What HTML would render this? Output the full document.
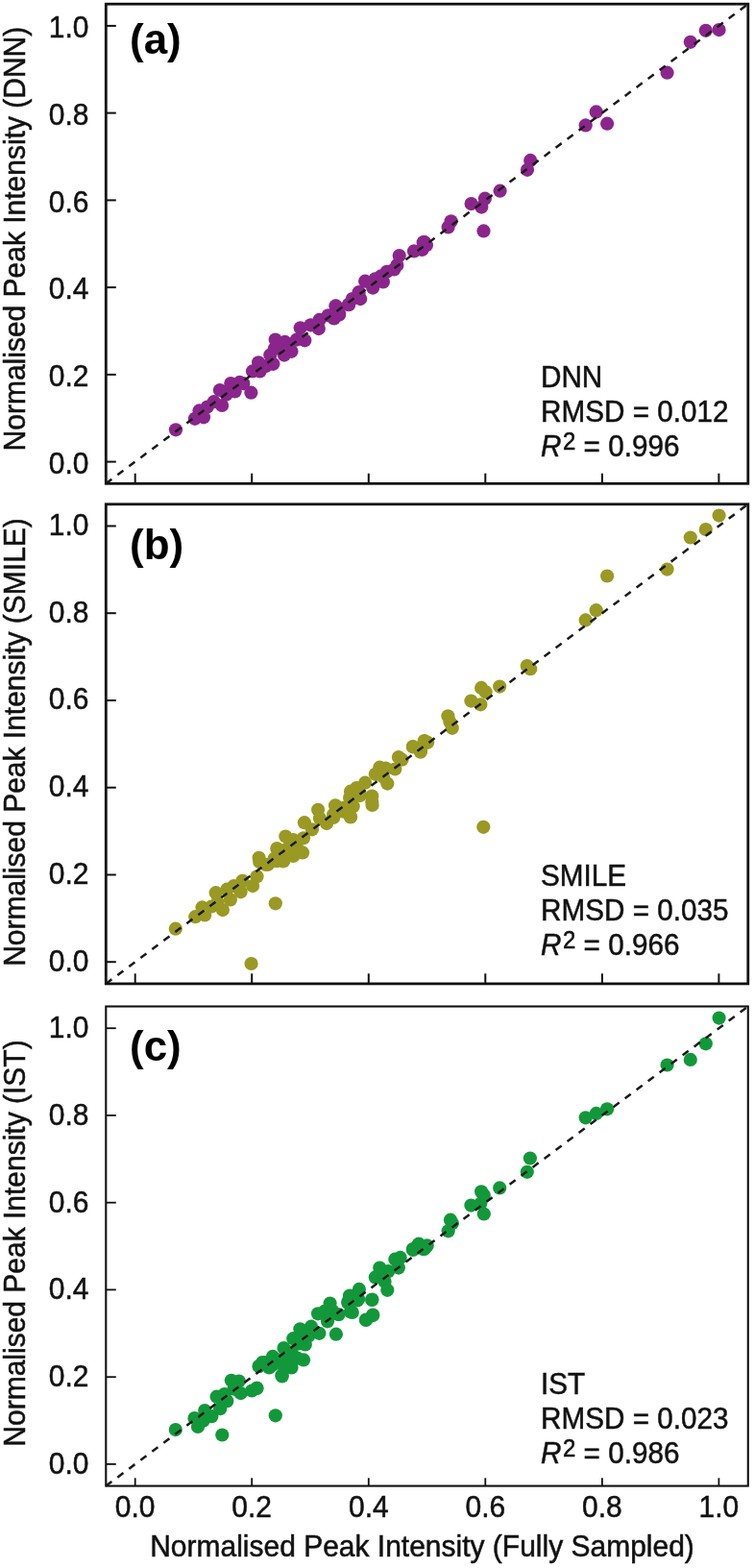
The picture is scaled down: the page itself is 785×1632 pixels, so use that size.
<!DOCTYPE html>
<html><head><meta charset="utf-8"><title>Figure</title>
<style>
html,body{margin:0;padding:0;background:#fff;}
svg{display:block;font-family:"Liberation Sans",sans-serif;}
.fr{fill:none;stroke:#111;}
.tk{stroke:#111;}
.dl{stroke:#1a1a1a;stroke-width:2.5;stroke-dasharray:7.6 7.385;fill:none;}
.tl{font-size:30px;fill:#111;stroke:#111;stroke-width:0.5;}
.ax{font-size:30px;fill:#111;stroke:#111;stroke-width:0.5;}
.an{font-size:29.7px;fill:#111;stroke:#111;stroke-width:0.5;}
.pl{font-size:44px;font-weight:bold;fill:#000;}
</style></head><body>
<svg width="785" height="1632" viewBox="0 0 785 1632">
<rect width="785" height="1632" fill="#fff"/>
<g>
<g fill="#8a268b">
<circle cx="183.0" cy="447.3" r="7.1"/>
<circle cx="202.9" cy="435.8" r="7.1"/>
<circle cx="207.5" cy="427.4" r="7.1"/>
<circle cx="212.0" cy="434.3" r="7.1"/>
<circle cx="215.9" cy="423.6" r="7.1"/>
<circle cx="222.7" cy="418.2" r="7.1"/>
<circle cx="231.1" cy="422.0" r="7.1"/>
<circle cx="228.9" cy="406.0" r="7.1"/>
<circle cx="235.7" cy="410.6" r="7.1"/>
<circle cx="240.3" cy="399.1" r="7.1"/>
<circle cx="244.6" cy="407.5" r="7.1"/>
<circle cx="249.5" cy="397.9" r="7.1"/>
<circle cx="253.3" cy="399.1" r="7.1"/>
<circle cx="261.4" cy="408.7" r="7.1"/>
<circle cx="276.8" cy="381.1" r="7.1"/>
<circle cx="285.9" cy="362.7" r="7.1"/>
<circle cx="263.0" cy="386.4" r="7.1"/>
<circle cx="269.1" cy="377.3" r="7.1"/>
<circle cx="270.6" cy="386.4" r="7.1"/>
<circle cx="281.3" cy="369.6" r="7.1"/>
<circle cx="284.4" cy="378.8" r="7.1"/>
<circle cx="286.7" cy="353.6" r="7.1"/>
<circle cx="296.6" cy="355.9" r="7.1"/>
<circle cx="295.9" cy="369.6" r="7.1"/>
<circle cx="303.5" cy="365.8" r="7.1"/>
<circle cx="308.9" cy="353.6" r="7.1"/>
<circle cx="312.7" cy="341.3" r="7.1"/>
<circle cx="317.3" cy="354.3" r="7.1"/>
<circle cx="323.4" cy="338.3" r="7.1"/>
<circle cx="331.8" cy="342.1" r="7.1"/>
<circle cx="332.5" cy="332.9" r="7.1"/>
<circle cx="341.7" cy="328.3" r="7.1"/>
<circle cx="347.8" cy="331.4" r="7.1"/>
<circle cx="349.4" cy="318.4" r="7.1"/>
<circle cx="353.2" cy="327.6" r="7.1"/>
<circle cx="363.1" cy="316.9" r="7.1"/>
<circle cx="349.9" cy="318.7" r="7.1"/>
<circle cx="353.0" cy="326.4" r="7.1"/>
<circle cx="362.9" cy="317.2" r="7.1"/>
<circle cx="366.8" cy="311.1" r="7.1"/>
<circle cx="373.6" cy="304.2" r="7.1"/>
<circle cx="375.2" cy="311.1" r="7.1"/>
<circle cx="380.1" cy="292.7" r="7.1"/>
<circle cx="388.2" cy="299.6" r="7.1"/>
<circle cx="390.4" cy="290.4" r="7.1"/>
<circle cx="398.9" cy="293.5" r="7.1"/>
<circle cx="396.6" cy="287.4" r="7.1"/>
<circle cx="402.7" cy="282.8" r="7.1"/>
<circle cx="410.3" cy="280.5" r="7.1"/>
<circle cx="413.4" cy="275.9" r="7.1"/>
<circle cx="415.7" cy="266.0" r="7.1"/>
<circle cx="431.0" cy="261.4" r="7.1"/>
<circle cx="442.1" cy="252.2" r="7.1"/>
<circle cx="439.4" cy="259.9" r="7.1"/>
<circle cx="443.9" cy="255.3" r="7.1"/>
<circle cx="440.7" cy="252.2" r="7.1"/>
<circle cx="466.6" cy="236.5" r="7.1"/>
<circle cx="469.6" cy="230.3" r="7.1"/>
<circle cx="490.6" cy="212.1" r="7.1"/>
<circle cx="504.9" cy="206.7" r="7.1"/>
<circle cx="501.3" cy="215.6" r="7.1"/>
<circle cx="503.5" cy="240.4" r="7.1"/>
<circle cx="520.6" cy="198.7" r="7.1"/>
<circle cx="549.0" cy="176.8" r="7.1"/>
<circle cx="552.2" cy="166.9" r="7.1"/>
<circle cx="609.7" cy="130.4" r="7.1"/>
<circle cx="620.7" cy="116.4" r="7.1"/>
<circle cx="632.1" cy="128.7" r="7.1"/>
<circle cx="694.6" cy="75.7" r="7.1"/>
<circle cx="718.8" cy="43.8" r="7.1"/>
<circle cx="734.8" cy="31.8" r="7.1"/>
<circle cx="748.6" cy="31.1" r="7.1"/>
<circle cx="289.9" cy="360.1" r="7.1"/>
</g>
<line class="dl" x1="110.3" y1="503.3" x2="778.8" y2="4.2"/>
<line class="tk" stroke-width="2" x1="110.3" y1="480.6" x2="120.8" y2="480.6"/>
<line class="tk" stroke-width="2" x1="140.7" y1="503.3" x2="140.7" y2="492.7"/>
<text class="tl" transform="translate(92.5,492.8) scale(1,1.045)" text-anchor="end">0.0</text>
<line class="tk" stroke-width="2" x1="110.3" y1="389.9" x2="120.8" y2="389.9"/>
<line class="tk" stroke-width="2" x1="262.2" y1="503.3" x2="262.2" y2="492.7"/>
<text class="tl" transform="translate(92.5,402.1) scale(1,1.045)" text-anchor="end">0.2</text>
<line class="tk" stroke-width="2" x1="110.3" y1="299.1" x2="120.8" y2="299.1"/>
<line class="tk" stroke-width="2" x1="383.8" y1="503.3" x2="383.8" y2="492.7"/>
<text class="tl" transform="translate(92.5,311.3) scale(1,1.045)" text-anchor="end">0.4</text>
<line class="tk" stroke-width="2" x1="110.3" y1="208.4" x2="120.8" y2="208.4"/>
<line class="tk" stroke-width="2" x1="505.3" y1="503.3" x2="505.3" y2="492.7"/>
<text class="tl" transform="translate(92.5,220.6) scale(1,1.045)" text-anchor="end">0.6</text>
<line class="tk" stroke-width="2" x1="110.3" y1="117.6" x2="120.8" y2="117.6"/>
<line class="tk" stroke-width="2" x1="626.9" y1="503.3" x2="626.9" y2="492.7"/>
<text class="tl" transform="translate(92.5,129.8) scale(1,1.045)" text-anchor="end">0.8</text>
<line class="tk" stroke-width="2" x1="110.3" y1="26.9" x2="120.8" y2="26.9"/>
<line class="tk" stroke-width="2" x1="748.4" y1="503.3" x2="748.4" y2="492.7"/>
<text class="tl" transform="translate(92.5,39.1) scale(1,1.045)" text-anchor="end">1.0</text>
<rect class="fr" stroke-width="2.8" x="110.3" y="4.2" width="668.5" height="499.1"/>
<text class="ax" transform="translate(26.3,248.6) rotate(-90) scale(1,1.045)" text-anchor="middle">Normalised Peak Intensity (DNN)</text>
<text class="pl" x="135" y="55.9">(a)</text>
<text class="an" transform="translate(563,402.5) scale(1,1.045)">DNN</text>
<text class="an" transform="translate(563,438.7) scale(1,1.045)">RMSD = 0.012</text>
<text class="an" transform="translate(563,474.5) scale(1,1.045)"><tspan font-style="italic">R</tspan><tspan font-size="24px" dx="1.5" dy="-6.5">2</tspan><tspan dy="6.5"> = 0.996</tspan></text>
</g>
<g>
<g fill="#999924">
<circle cx="226.5" cy="939.0" r="7.1"/>
<circle cx="288.1" cy="896.2" r="7.1"/>
<circle cx="182.8" cy="966.7" r="7.1"/>
<circle cx="203.3" cy="954.2" r="7.1"/>
<circle cx="210.5" cy="944.4" r="7.1"/>
<circle cx="213.2" cy="952.4" r="7.1"/>
<circle cx="220.3" cy="943.5" r="7.1"/>
<circle cx="224.7" cy="929.2" r="7.1"/>
<circle cx="231.9" cy="947.1" r="7.1"/>
<circle cx="236.3" cy="925.7" r="7.1"/>
<circle cx="239.9" cy="936.4" r="7.1"/>
<circle cx="243.5" cy="922.1" r="7.1"/>
<circle cx="252.4" cy="916.8" r="7.1"/>
<circle cx="250.6" cy="928.3" r="7.1"/>
<circle cx="263.1" cy="922.1" r="7.1"/>
<circle cx="267.5" cy="912.3" r="7.1"/>
<circle cx="270.2" cy="897.1" r="7.1"/>
<circle cx="279.1" cy="899.8" r="7.1"/>
<circle cx="286.8" cy="940.3" r="7.1"/>
<circle cx="295.2" cy="896.2" r="7.1"/>
<circle cx="298.2" cy="883.9" r="7.1"/>
<circle cx="285.7" cy="893.7" r="7.1"/>
<circle cx="308.9" cy="882.1" r="7.1"/>
<circle cx="269.6" cy="892.8" r="7.1"/>
<circle cx="276.8" cy="899.9" r="7.1"/>
<circle cx="288.3" cy="883.0" r="7.1"/>
<circle cx="294.6" cy="896.3" r="7.1"/>
<circle cx="297.3" cy="870.5" r="7.1"/>
<circle cx="305.3" cy="874.0" r="7.1"/>
<circle cx="305.3" cy="891.0" r="7.1"/>
<circle cx="315.1" cy="887.4" r="7.1"/>
<circle cx="316.0" cy="872.3" r="7.1"/>
<circle cx="316.9" cy="856.2" r="7.1"/>
<circle cx="324.9" cy="863.3" r="7.1"/>
<circle cx="331.1" cy="842.8" r="7.1"/>
<circle cx="332.9" cy="851.8" r="7.1"/>
<circle cx="340.1" cy="857.1" r="7.1"/>
<circle cx="349.0" cy="838.4" r="7.1"/>
<circle cx="347.2" cy="850.9" r="7.1"/>
<circle cx="357.0" cy="844.6" r="7.1"/>
<circle cx="365.0" cy="850.0" r="7.1"/>
<circle cx="364.1" cy="830.4" r="7.1"/>
<circle cx="367.7" cy="839.3" r="7.1"/>
<circle cx="374.8" cy="826.8" r="7.1"/>
<circle cx="387.3" cy="834.8" r="7.1"/>
<circle cx="349.8" cy="838.8" r="7.1"/>
<circle cx="347.1" cy="847.7" r="7.1"/>
<circle cx="358.7" cy="840.6" r="7.1"/>
<circle cx="365.0" cy="850.4" r="7.1"/>
<circle cx="365.0" cy="823.7" r="7.1"/>
<circle cx="371.2" cy="820.1" r="7.1"/>
<circle cx="380.1" cy="814.7" r="7.1"/>
<circle cx="374.8" cy="828.1" r="7.1"/>
<circle cx="387.3" cy="828.5" r="7.1"/>
<circle cx="387.6" cy="837.9" r="7.1"/>
<circle cx="390.8" cy="805.8" r="7.1"/>
<circle cx="395.3" cy="798.7" r="7.1"/>
<circle cx="401.5" cy="799.6" r="7.1"/>
<circle cx="403.3" cy="815.6" r="7.1"/>
<circle cx="398.9" cy="808.5" r="7.1"/>
<circle cx="411.3" cy="800.5" r="7.1"/>
<circle cx="414.9" cy="788.0" r="7.1"/>
<circle cx="418.5" cy="790.7" r="7.1"/>
<circle cx="430.1" cy="777.3" r="7.1"/>
<circle cx="438.1" cy="781.8" r="7.1"/>
<circle cx="441.7" cy="771.1" r="7.1"/>
<circle cx="445.2" cy="772.8" r="7.1"/>
<circle cx="429.8" cy="777.0" r="7.1"/>
<circle cx="437.8" cy="782.7" r="7.1"/>
<circle cx="442.3" cy="771.5" r="7.1"/>
<circle cx="466.4" cy="745.3" r="7.1"/>
<circle cx="468.5" cy="751.5" r="7.1"/>
<circle cx="470.8" cy="757.8" r="7.1"/>
<circle cx="490.4" cy="729.6" r="7.1"/>
<circle cx="500.3" cy="733.3" r="7.1"/>
<circle cx="501.1" cy="715.9" r="7.1"/>
<circle cx="505.6" cy="720.3" r="7.1"/>
<circle cx="520.2" cy="714.6" r="7.1"/>
<circle cx="548.7" cy="693.1" r="7.1"/>
<circle cx="552.2" cy="696.2" r="7.1"/>
<circle cx="609.7" cy="645.4" r="7.1"/>
<circle cx="620.7" cy="635.2" r="7.1"/>
<circle cx="632.1" cy="599.5" r="7.1"/>
<circle cx="694.6" cy="592.6" r="7.1"/>
<circle cx="718.8" cy="559.5" r="7.1"/>
<circle cx="734.8" cy="551.1" r="7.1"/>
<circle cx="748.6" cy="536.6" r="7.1"/>
<circle cx="261.6" cy="1003.0" r="7.1"/>
<circle cx="503.3" cy="860.8" r="7.1"/>
</g>
<line class="dl" x1="110.3" y1="1023.9" x2="778.8" y2="524.8"/>
<line class="tk" stroke-width="2" x1="110.3" y1="1001.2" x2="120.8" y2="1001.2"/>
<line class="tk" stroke-width="2" x1="140.7" y1="1023.9" x2="140.7" y2="1013.3"/>
<text class="tl" transform="translate(92.5,1010.6) scale(1,1.045)" text-anchor="end">0.0</text>
<line class="tk" stroke-width="2" x1="110.3" y1="910.5" x2="120.8" y2="910.5"/>
<line class="tk" stroke-width="2" x1="262.2" y1="1023.9" x2="262.2" y2="1013.3"/>
<text class="tl" transform="translate(92.5,919.9) scale(1,1.045)" text-anchor="end">0.2</text>
<line class="tk" stroke-width="2" x1="110.3" y1="819.7" x2="120.8" y2="819.7"/>
<line class="tk" stroke-width="2" x1="383.8" y1="1023.9" x2="383.8" y2="1013.3"/>
<text class="tl" transform="translate(92.5,829.1) scale(1,1.045)" text-anchor="end">0.4</text>
<line class="tk" stroke-width="2" x1="110.3" y1="729.0" x2="120.8" y2="729.0"/>
<line class="tk" stroke-width="2" x1="505.3" y1="1023.9" x2="505.3" y2="1013.3"/>
<text class="tl" transform="translate(92.5,738.4) scale(1,1.045)" text-anchor="end">0.6</text>
<line class="tk" stroke-width="2" x1="110.3" y1="638.2" x2="120.8" y2="638.2"/>
<line class="tk" stroke-width="2" x1="626.9" y1="1023.9" x2="626.9" y2="1013.3"/>
<text class="tl" transform="translate(92.5,647.6) scale(1,1.045)" text-anchor="end">0.8</text>
<line class="tk" stroke-width="2" x1="110.3" y1="547.5" x2="120.8" y2="547.5"/>
<line class="tk" stroke-width="2" x1="748.4" y1="1023.9" x2="748.4" y2="1013.3"/>
<text class="tl" transform="translate(92.5,556.9) scale(1,1.045)" text-anchor="end">1.0</text>
<rect class="fr" stroke-width="2.8" x="110.3" y="524.8" width="668.5" height="499.1"/>
<text class="ax" transform="translate(26.3,772.5) rotate(-90) scale(1,1.045)" text-anchor="middle">Normalised Peak Intensity (SMILE)</text>
<text class="pl" x="135" y="581.9">(b)</text>
<text class="an" transform="translate(563,922.0) scale(1,1.045)">SMILE</text>
<text class="an" transform="translate(563,958.2) scale(1,1.045)">RMSD = 0.035</text>
<text class="an" transform="translate(563,994.0) scale(1,1.045)"><tspan font-style="italic">R</tspan><tspan font-size="24px" dx="1.5" dy="-6.5">2</tspan><tspan dy="6.5"> = 0.966</tspan></text>
</g>
<g>
<g fill="#12983a">
<circle cx="211.7" cy="1478.7" r="7.1"/>
<circle cx="182.8" cy="1488.1" r="7.1"/>
<circle cx="202.5" cy="1476.0" r="7.1"/>
<circle cx="206.0" cy="1484.9" r="7.1"/>
<circle cx="213.2" cy="1468.0" r="7.1"/>
<circle cx="220.3" cy="1474.2" r="7.1"/>
<circle cx="225.6" cy="1453.7" r="7.1"/>
<circle cx="229.2" cy="1466.2" r="7.1"/>
<circle cx="231.3" cy="1493.5" r="7.1"/>
<circle cx="236.3" cy="1458.2" r="7.1"/>
<circle cx="233.7" cy="1451.0" r="7.1"/>
<circle cx="240.8" cy="1436.8" r="7.1"/>
<circle cx="248.8" cy="1437.6" r="7.1"/>
<circle cx="243.5" cy="1445.7" r="7.1"/>
<circle cx="250.6" cy="1450.1" r="7.1"/>
<circle cx="262.2" cy="1447.5" r="7.1"/>
<circle cx="267.5" cy="1444.8" r="7.1"/>
<circle cx="269.7" cy="1422.1" r="7.1"/>
<circle cx="275.6" cy="1418.0" r="7.1"/>
<circle cx="286.8" cy="1473.3" r="7.1"/>
<circle cx="283.6" cy="1420.7" r="7.1"/>
<circle cx="293.4" cy="1431.4" r="7.1"/>
<circle cx="289.8" cy="1415.4" r="7.1"/>
<circle cx="300.5" cy="1422.5" r="7.1"/>
<circle cx="309.7" cy="1413.7" r="7.1"/>
<circle cx="310.6" cy="1398.5" r="7.1"/>
<circle cx="298.2" cy="1413.7" r="7.1"/>
<circle cx="338.3" cy="1364.6" r="7.1"/>
<circle cx="267.3" cy="1444.9" r="7.1"/>
<circle cx="269.6" cy="1422.0" r="7.1"/>
<circle cx="273.2" cy="1418.1" r="7.1"/>
<circle cx="280.3" cy="1423.5" r="7.1"/>
<circle cx="283.9" cy="1411.9" r="7.1"/>
<circle cx="293.7" cy="1432.4" r="7.1"/>
<circle cx="291.9" cy="1419.0" r="7.1"/>
<circle cx="295.5" cy="1403.0" r="7.1"/>
<circle cx="303.5" cy="1423.5" r="7.1"/>
<circle cx="303.5" cy="1407.4" r="7.1"/>
<circle cx="305.3" cy="1393.2" r="7.1"/>
<circle cx="312.4" cy="1383.3" r="7.1"/>
<circle cx="316.0" cy="1415.4" r="7.1"/>
<circle cx="317.8" cy="1399.4" r="7.1"/>
<circle cx="324.0" cy="1380.7" r="7.1"/>
<circle cx="321.3" cy="1390.5" r="7.1"/>
<circle cx="332.4" cy="1387.8" r="7.1"/>
<circle cx="331.1" cy="1367.3" r="7.1"/>
<circle cx="341.0" cy="1375.3" r="7.1"/>
<circle cx="343.6" cy="1356.6" r="7.1"/>
<circle cx="349.9" cy="1388.7" r="7.1"/>
<circle cx="352.5" cy="1368.2" r="7.1"/>
<circle cx="346.3" cy="1364.6" r="7.1"/>
<circle cx="362.4" cy="1354.8" r="7.1"/>
<circle cx="365.0" cy="1365.5" r="7.1"/>
<circle cx="364.1" cy="1348.6" r="7.1"/>
<circle cx="373.1" cy="1352.1" r="7.1"/>
<circle cx="381.1" cy="1373.5" r="7.1"/>
<circle cx="388.2" cy="1369.1" r="7.1"/>
<circle cx="387.3" cy="1353.0" r="7.1"/>
<circle cx="397.1" cy="1326.7" r="7.1"/>
<circle cx="364.1" cy="1349.0" r="7.1"/>
<circle cx="362.3" cy="1356.1" r="7.1"/>
<circle cx="366.8" cy="1366.0" r="7.1"/>
<circle cx="373.9" cy="1341.9" r="7.1"/>
<circle cx="372.1" cy="1353.5" r="7.1"/>
<circle cx="387.3" cy="1352.6" r="7.1"/>
<circle cx="388.2" cy="1368.6" r="7.1"/>
<circle cx="381.0" cy="1374.0" r="7.1"/>
<circle cx="390.8" cy="1329.4" r="7.1"/>
<circle cx="395.3" cy="1319.6" r="7.1"/>
<circle cx="400.6" cy="1333.9" r="7.1"/>
<circle cx="403.3" cy="1342.8" r="7.1"/>
<circle cx="404.2" cy="1323.2" r="7.1"/>
<circle cx="411.3" cy="1310.7" r="7.1"/>
<circle cx="416.7" cy="1308.9" r="7.1"/>
<circle cx="414.9" cy="1319.6" r="7.1"/>
<circle cx="430.1" cy="1300.9" r="7.1"/>
<circle cx="435.4" cy="1295.5" r="7.1"/>
<circle cx="444.7" cy="1296.4" r="7.1"/>
<circle cx="441.7" cy="1300.0" r="7.1"/>
<circle cx="429.8" cy="1300.1" r="7.1"/>
<circle cx="436.1" cy="1294.7" r="7.1"/>
<circle cx="443.7" cy="1297.4" r="7.1"/>
<circle cx="440.5" cy="1300.1" r="7.1"/>
<circle cx="466.7" cy="1281.3" r="7.1"/>
<circle cx="469.0" cy="1269.7" r="7.1"/>
<circle cx="470.8" cy="1273.3" r="7.1"/>
<circle cx="490.4" cy="1254.6" r="7.1"/>
<circle cx="501.1" cy="1240.3" r="7.1"/>
<circle cx="503.8" cy="1243.9" r="7.1"/>
<circle cx="500.3" cy="1252.8" r="7.1"/>
<circle cx="503.8" cy="1263.5" r="7.1"/>
<circle cx="520.2" cy="1236.4" r="7.1"/>
<circle cx="548.8" cy="1219.8" r="7.1"/>
<circle cx="551.9" cy="1205.5" r="7.1"/>
<circle cx="609.7" cy="1163.3" r="7.1"/>
<circle cx="620.7" cy="1158.9" r="7.1"/>
<circle cx="632.1" cy="1154.3" r="7.1"/>
<circle cx="694.6" cy="1108.5" r="7.1"/>
<circle cx="718.8" cy="1102.9" r="7.1"/>
<circle cx="734.8" cy="1086.3" r="7.1"/>
<circle cx="748.6" cy="1059.6" r="7.1"/>
<circle cx="314.5" cy="1389.0" r="7.1"/>
<circle cx="394.6" cy="1327.8" r="7.1"/>
</g>
<line class="dl" x1="110.3" y1="1546.6" x2="778.8" y2="1047.5"/>
<line class="tk" stroke-width="1.8" x1="110.3" y1="1523.9" x2="120.8" y2="1523.9"/>
<line class="tk" stroke-width="1.8" x1="140.7" y1="1546.6" x2="140.7" y2="1538.3"/>
<text class="tl" transform="translate(92.5,1533.8) scale(1,1.045)" text-anchor="end">0.0</text>
<text class="tl" transform="translate(140.7,1578.5) scale(1,1.045)" text-anchor="middle">0.0</text>
<line class="tk" stroke-width="1.8" x1="110.3" y1="1433.2" x2="120.8" y2="1433.2"/>
<line class="tk" stroke-width="1.8" x1="262.2" y1="1546.6" x2="262.2" y2="1538.3"/>
<text class="tl" transform="translate(92.5,1443.1) scale(1,1.045)" text-anchor="end">0.2</text>
<text class="tl" transform="translate(262.2,1578.5) scale(1,1.045)" text-anchor="middle">0.2</text>
<line class="tk" stroke-width="1.8" x1="110.3" y1="1342.4" x2="120.8" y2="1342.4"/>
<line class="tk" stroke-width="1.8" x1="383.8" y1="1546.6" x2="383.8" y2="1538.3"/>
<text class="tl" transform="translate(92.5,1352.3) scale(1,1.045)" text-anchor="end">0.4</text>
<text class="tl" transform="translate(383.8,1578.5) scale(1,1.045)" text-anchor="middle">0.4</text>
<line class="tk" stroke-width="1.8" x1="110.3" y1="1251.7" x2="120.8" y2="1251.7"/>
<line class="tk" stroke-width="1.8" x1="505.3" y1="1546.6" x2="505.3" y2="1538.3"/>
<text class="tl" transform="translate(92.5,1261.6) scale(1,1.045)" text-anchor="end">0.6</text>
<text class="tl" transform="translate(505.3,1578.5) scale(1,1.045)" text-anchor="middle">0.6</text>
<line class="tk" stroke-width="1.8" x1="110.3" y1="1160.9" x2="120.8" y2="1160.9"/>
<line class="tk" stroke-width="1.8" x1="626.9" y1="1546.6" x2="626.9" y2="1538.3"/>
<text class="tl" transform="translate(92.5,1170.8) scale(1,1.045)" text-anchor="end">0.8</text>
<text class="tl" transform="translate(626.9,1578.5) scale(1,1.045)" text-anchor="middle">0.8</text>
<line class="tk" stroke-width="1.8" x1="110.3" y1="1070.2" x2="120.8" y2="1070.2"/>
<line class="tk" stroke-width="1.8" x1="748.4" y1="1546.6" x2="748.4" y2="1538.3"/>
<text class="tl" transform="translate(92.5,1080.1) scale(1,1.045)" text-anchor="end">1.0</text>
<text class="tl" transform="translate(748.4,1578.5) scale(1,1.045)" text-anchor="middle">1.0</text>
<rect class="fr" stroke-width="2.1" x="110.3" y="1047.5" width="668.5" height="499.1"/>
<text class="ax" transform="translate(26.3,1294.0) rotate(-90) scale(1,1.045)" text-anchor="middle">Normalised Peak Intensity (IST)</text>
<text class="pl" x="135" y="1104.1">(c)</text>
<text class="an" transform="translate(563,1450.8) scale(1,1.045)">IST</text>
<text class="an" transform="translate(563,1487.0) scale(1,1.045)">RMSD = 0.023</text>
<text class="an" transform="translate(563,1522.8) scale(1,1.045)"><tspan font-style="italic">R</tspan><tspan font-size="24px" dx="1.5" dy="-6.5">2</tspan><tspan dy="6.5"> = 0.986</tspan></text>
</g>
<text class="ax" transform="translate(439.5,1619.7) scale(1,1.045)" text-anchor="middle">Normalised Peak Intensity (Fully Sampled)</text>
</svg></body></html>
